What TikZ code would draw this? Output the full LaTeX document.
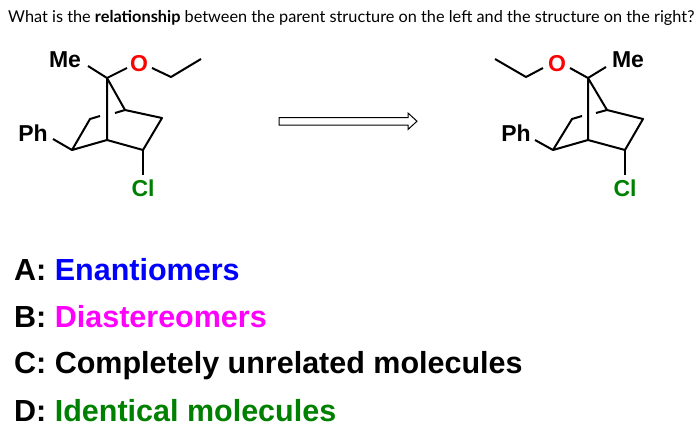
\documentclass[tikz,border=0pt]{standalone}
\usepackage{fontspec}
\setmainfont{Liberation Sans}
\newfontfamily\latofont{Lato}
\definecolor{cl}{RGB}{0,128,0}
\definecolor{bl}{RGB}{0,0,255}
\definecolor{mg}{RGB}{255,0,255}
\begin{document}
\begin{tikzpicture}[x=1pt,y=-1pt,
  bond/.style={line width=2pt,line join=round},
  atom/.style={font=\fontsize{23}{23}\selectfont\bfseries,inner sep=1pt},
  ans/.style={font=\fontsize{30.5}{31}\selectfont\bfseries,anchor=base west,inner sep=0pt}]
\useasboundingbox (0,0) rectangle (697,439);
\node[anchor=base west,inner sep=0pt,font=\latofont\fontsize{16.3}{17}\selectfont] (q) at (8,23) {What is the \textbf{relationship} between the parent structure on the left and the structure on the right?};
% left molecule
\node[atom] (me1) at (65,60) {Me};
\node[atom,text=red] (o1) at (139,64) {O};
\node[atom] (ph1) at (33,133) {Ph};
\node[atom,text=cl] (cl1) at (143,188) {Cl};
\coordinate (a7) at (107,78); \coordinate (a1) at (125,110); \coordinate (a4) at (107,140);
\coordinate (a2) at (162,118); \coordinate (a3) at (143,150); \coordinate (a6) at (72,150);
\coordinate (a5) at (90,119); \coordinate (e1) at (171,77); \coordinate (e2) at (201,59);
\draw[bond] (88,66) -- (a7) -- (127,68);
\draw[bond] (152,68) -- (e1) -- (e2);
\draw[bond] (a7) -- (a1) -- (a2) -- (a3) -- (a4) -- (a7);
\draw[bond] (a3) -- (143,175);
\draw[bond] (53,139) -- (a6) -- (a5) -- (100,116);
\draw[bond] (a6) -- (a4);
\draw[bond] (115,113) -- (a1);
% arrow
\draw[line width=1pt,line join=miter] (279,117.5) -- (408,117.5) -- (408,113) -- (417,121.2) -- (408,129.5) -- (408,125) -- (279,125) -- cycle;
% right molecule
\node[atom] (me2) at (628,60) {Me};
\node[atom,text=red] (o2) at (557,64) {O};
\node[atom] (ph2) at (516,133) {Ph};
\node[atom,text=cl] (cl2) at (625,188) {Cl};
\coordinate (b7) at (588,78); \coordinate (b1) at (607,110); \coordinate (b4) at (588,140);
\coordinate (b2) at (643,119); \coordinate (b3) at (625,150); \coordinate (b6) at (553,150);
\coordinate (b5) at (572,119); \coordinate (f1) at (526,77); \coordinate (f2) at (495,59);
\draw[bond] (606,67) -- (b7) -- (570,68);
\draw[bond] (543,68) -- (f1) -- (f2);
\draw[bond] (b7) -- (b1) -- (b2) -- (b3) -- (b4) -- (b7);
\draw[bond] (b3) -- (625,175);
\draw[bond] (535,140) -- (b6) -- (b5) -- (582,116);
\draw[bond] (b6) -- (b4);
\draw[bond] (596,113) -- (b1);
% answers
\node[ans] (aa) at (14,280) {A: \textcolor{bl}{Enantiomers}};
\node[ans] (ab) at (14,327) {B: \textcolor{mg}{Diastereomers}};
\node[ans] (ac) at (14,373) {C: Completely unrelated molecules};
\node[ans] (ad) at (14,421) {D: \textcolor{cl}{Identical molecules}};
\end{tikzpicture}
\end{document}
